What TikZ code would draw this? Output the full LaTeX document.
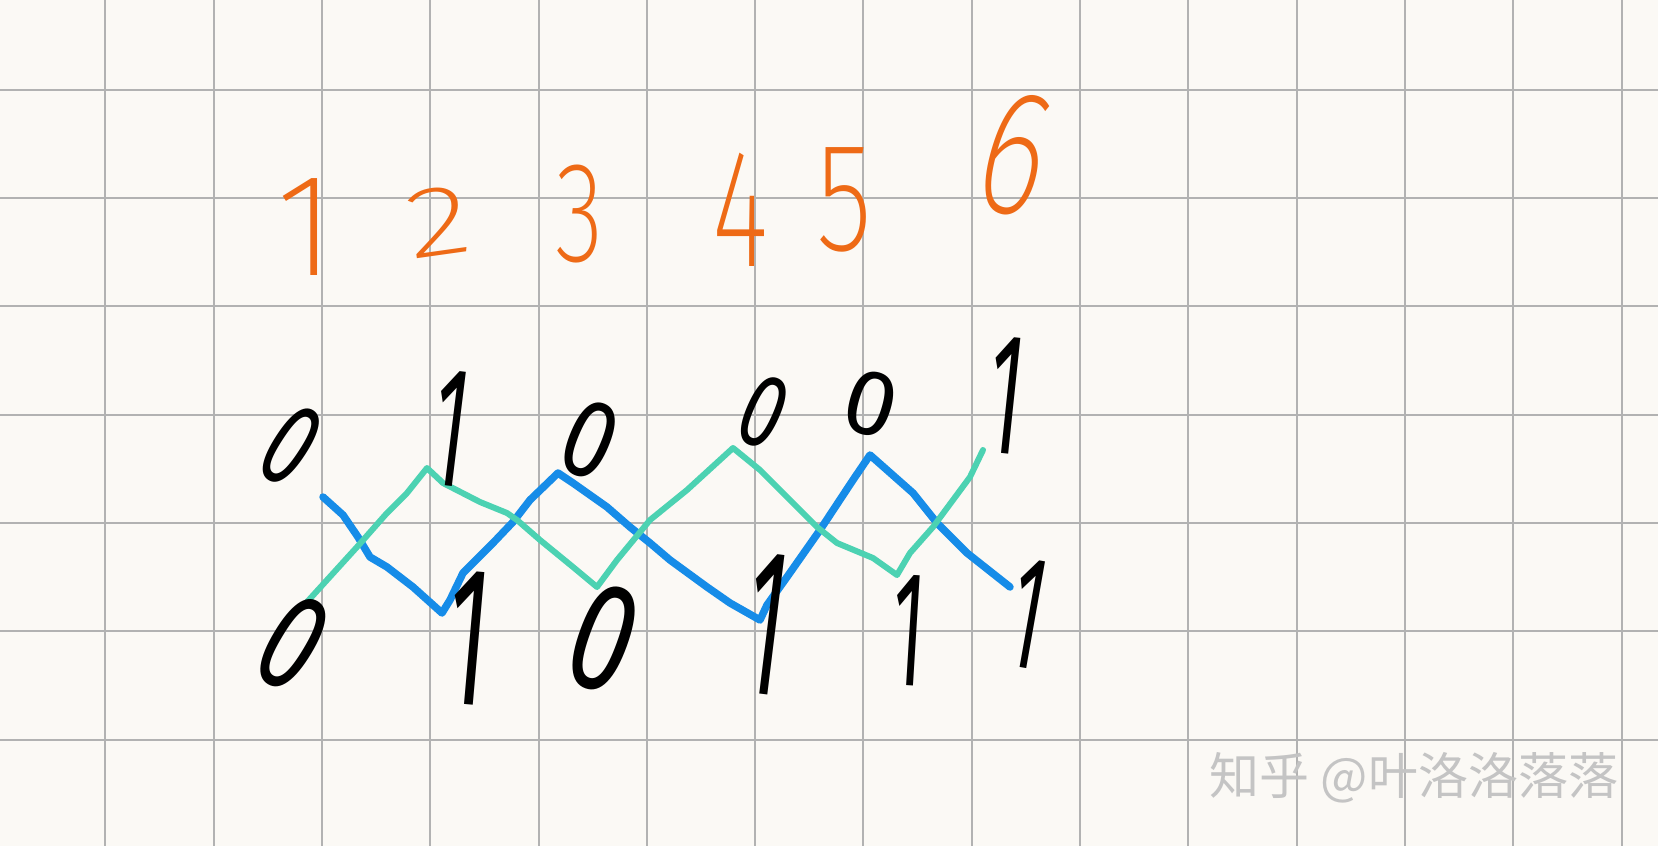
\documentclass[tikz,border=0pt]{standalone}
\usepackage{fontspec}
\newfontfamily\blackdig{Fira Sans}
\newfontfamily\orangedig{Fira Sans ExtraLight}
\newfontfamily\cjk{Noto Sans CJK SC}
\definecolor{paper}{RGB}{251,249,245}
\definecolor{gridc}{RGB}{178,178,178}
\definecolor{penorange}{RGB}{238,106,22}
\definecolor{penblue}{RGB}{22,140,232}
\definecolor{penteal}{RGB}{76,210,178}
\definecolor{wmgray}{RGB}{196,196,196}
\begin{document}
\begin{tikzpicture}[x=1pt,y=-1pt,
  bdigit/.style={inner sep=0pt, text=black, font=\blackdig\fontsize{100}{100}\selectfont},
  odigit/.style={inner sep=0pt, text=penorange, font=\orangedig\fontsize{100}{100}\selectfont},
  gridline/.style={draw=gridc, line width=2pt},
  bluepath/.style={draw=penblue, line width=7.5pt, line cap=round, line join=round},
  tealpath/.style={draw=penteal, line width=6pt, line cap=round, line join=round},
  wmark/.style={inner sep=0pt, text=wmgray, font=\cjk\fontsize{50}{50}\selectfont},
]
\useasboundingbox (0,0) rectangle (1658,846);
\fill[paper] (0,0) rectangle (1658,846);
% grid
\foreach \i in {0,...,14} \draw[gridline] ({105.3+108.3*\i},0) -- ({105.3+108.3*\i},846);
\foreach \j in {0,...,6} \draw[gridline] (0,{89.8+108.3*\j}) -- (1658,{89.8+108.3*\j});
% blue zigzag
\draw[bluepath] (323,497) -- (343,515) -- (358,537) -- (370,557) -- (387,567) -- (413,587) -- (442,613)
  -- (450,600) -- (463,573) -- (493,543) -- (513,522) -- (530,500) -- (558,473)
  -- (573,483) -- (607,507) -- (630,527) -- (650,543) -- (670,560) -- (707,587) -- (730,603) -- (760,620)
  -- (767,605) -- (787,577) -- (820,530) -- (853,480) -- (870,455)
  -- (887,470) -- (913,493) -- (937,523) -- (967,553) -- (1010,587);
% teal zigzag
\draw[tealpath] (307,602) -- (357,547) -- (387,513) -- (407,493) -- (427,468)
  -- (443,483) -- (480,502) -- (507,513) -- (517,520) -- (540,540) -- (573,567) -- (597,587)
  -- (617,560) -- (650,520) -- (687,490) -- (733,448)
  -- (760,470) -- (787,497) -- (817,527) -- (837,543) -- (873,558) -- (897,575)
  -- (910,553) -- (933,527) -- (953,500) -- (970,477) -- (983,450);
% orange column numbers
\node[odigit, scale=1.46] (o1) at (306,227) {1};
\node[odigit, rotate=8, xscale=1.35] (o2) at (438,222) {2};
\node[odigit, scale=1.43, xscale=0.7] (o3) at (580,214) {3};
\node[odigit, scale=1.68, xscale=0.65] (o4) at (741,210) {4};
\node[odigit, scale=1.55, xscale=0.75] (o5) at (845,200) {5};
\node[odigit, rotate=-15, scale=1.8, xscale=0.7] (o6) at (1016,154) {6};
% black top row
\node[bdigit, rotate=-33, scale=1.2, xscale=0.64] (t1) at (291,446) {0};
\node[bdigit, rotate=-7, scale=1.72, xscale=0.45] (t2) at (451,428) {1};
\node[bdigit, rotate=-23, scale=1.12, xscale=0.8] (t3) at (590,440) {0};
\node[bdigit, rotate=-24, scale=1.05, xscale=0.71] (t4) at (764,412) {0};
\node[bdigit, rotate=-16, scale=0.93, xscale=1.0] (t5) at (871,404) {0};
\node[bdigit, rotate=-6, scale=1.74, xscale=0.45] (t6) at (1006,395) {1};
% black bottom row
\node[bdigit, rotate=-31, scale=1.4, xscale=0.68] (b1) at (293,643) {0};
\node[bdigit, rotate=-5, scale=1.99, xscale=0.48] (b2) at (469,638) {1};
\node[bdigit, rotate=-20, scale=1.55, xscale=0.71] (b3) at (604,638) {0};
\node[bdigit, rotate=-7, scale=2.1, xscale=0.42] (b4) at (767,624) {1};
\node[bdigit, rotate=-3.5, scale=1.65, xscale=0.45] (b5) at (909,630) {1};
\node[bdigit, rotate=-10, scale=1.62, xscale=0.45] (b6) at (1028,614) {1};
% watermark
\node[wmark] (wm) at (1414,778) {知乎 @叶洛洛落落};
\end{tikzpicture}
\end{document}
